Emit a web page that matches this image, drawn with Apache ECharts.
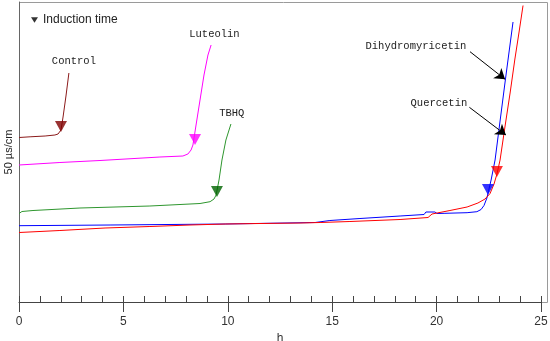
<!DOCTYPE html>
<html><head><meta charset="utf-8">
<script src="https://cdn.jsdelivr.net/npm/echarts@6/dist/echarts.min.js"></script>
<style>html,body{margin:0;padding:0;background:#fff}#c{width:550px;height:341px}</style>
</head><body><div id="c"></div>
<script>
// time axis (h) and conductivity (arbitrary units, 50 µs/cm per ... )
const controlH = [0, 0.53, 1.25, 1.72, 1.87, 1.96, 2.01, 2.11, 2.25, 2.39];
const controlV = [164.5, 165.2, 166, 167, 168, 169.5, 172, 185, 206, 229];

const luteolinH = [0, 1.96, 3.88, 6.75, 7.85, 8.09, 8.24, 8.33, 8.48, 8.67, 8.86, 9.05, 9.20];
const luteolinV = [137, 139.5, 141.5, 145, 146, 148, 152, 157, 177, 202, 227, 247, 257];

const tbhqH = [0, 0.14, 0.67, 2.92, 6.27, 8.67, 9.15, 9.34, 9.44, 9.58, 9.72, 9.91, 10.15];
const tbhqV = [88.5, 90.5, 91.5, 94, 96, 98.5, 100.3, 103, 107, 122, 142, 162, 178];

const dihydroH = [0, 4.36, 9.87, 14.18, 14.89, 16.33, 18.25, 19.40, 19.49, 19.92, 20.02, 20.40, 21.46, 21.93, 22.13, 22.27, 22.41, 22.61, 22.80, 23.04, 23.28, 23.47, 23.66];
const dihydroV = [76.3, 77, 78, 79.5, 81.5, 83.5, 86, 87.5, 90, 90, 88.5, 88.7, 89.3, 90.3, 92.5, 96.5, 104, 122, 142, 181, 220, 250, 280];

const quercetinH = [0, 1.96, 4.12, 6.27, 8.19, 9.87, 11.54, 13.46, 14.42, 15.85, 18.25, 19.59, 19.78, 20.64, 21.46, 21.98, 22.32, 22.56, 22.75, 22.89, 23.04, 23.28, 23.52, 23.75, 23.95, 24.14];
const quercetinV = [69.5, 71.5, 74, 75.5, 77, 78, 78.5, 79, 79.5, 80.5, 82.5, 84.5, 88, 91.5, 95, 99, 103, 108.5, 118, 128, 142, 176, 209, 243, 270, 296.5];

// induction time markers
const inductionNames = ['Control', 'Luteolin', 'TBHQ', 'Dihydromyricetin', 'Quercetin'];
const inductionH = [2.01, 8.43, 9.48, 22.46, 22.89];
const inductionV = [170, 157, 105, 107, 125];

// annotation labels
const labelNames = ['Control', 'Luteolin', 'TBHQ', 'Dihydromyricetin', 'Quercetin'];
const labelH = [2.63, 9.36, 10.19, 19.01, 20.11];
const labelV = [240.3, 268, 188.7, 256, 198.7];

// arrows [fromH, fromV, toH, toV]
const dihydroArrow = [21.60, 250.3, 23.28, 222.7];
const quercetinArrow = [21.57, 194.7, 23.32, 167];

const xTickLabels = [0, 5, 10, 15, 20, 25];

const zip = (a, b) => a.map((v, i) => [v, b[i]]);

const lineColors = ['#8b1a1a', '#ff00ff', '#2e962e', '#0000ff', '#ff0000'];
const markerColors = ['#800000', '#ff00ff', '#006400', '#0000ff', '#ff0000'];

const monoFont = { fontFamily: 'Liberation Mono', fontSize: 10.5, color: '#222' };

function labelPoint(i) {
  return {
    symbol: 'circle', symbolSize: 0, silent: true,
    label: Object.assign({ show: true, position: 'inside', formatter: '{b}' }, monoFont),
    data: [{ name: labelNames[i], coord: [labelH[i], labelV[i]] }]
  };
}
function arrow(a) {
  return {
    silent: true, symbol: ['none', 'arrow'], symbolSize: 10,
    label: { show: false },
    lineStyle: { color: '#000', width: 1, type: 'solid' },
    itemStyle: { color: '#000' },
    emphasis: { disabled: true },
    data: [[{ coord: [a[0], a[1]] }, { coord: [a[2], a[3]] }]]
  };
}
function lineSeries(name, h, v, idx, extra) {
  return Object.assign({
    name: name, type: 'line', data: zip(h, v), showSymbol: false, symbol: 'none',
    lineStyle: { width: 1, color: lineColors[idx] }, itemStyle: { color: lineColors[idx] },
    silent: true, z: 2, markPoint: labelPoint(idx)
  }, extra || {});
}

const chart = echarts.init(document.getElementById('c'), null, { renderer: 'canvas' });
chart.setOption({
  animation: false,
  grid: { left: 19, right: 9, top: 2, bottom: 39, containLabel: false, outerBoundsMode: 'none' },
  legend: {
    left: 26, top: 9, itemWidth: 7, itemHeight: 6, selectedMode: false,
    data: [{ name: 'Induction time', icon: 'path://M0,0L10,0L5,8Z', itemStyle: { color: '#000' } }],
    textStyle: { fontFamily: 'Liberation Sans', fontSize: 12, color: '#222' }
  },
  graphic: [{
    type: 'rect', z: -1, silent: true,
    shape: { x: 19.5, y: 2.5, width: 528, height: 300 },
    style: { fill: 'none', stroke: '#9a9a9a', lineWidth: 1 }
  }],
  xAxis: [{
    type: 'value', min: 0, max: 25, interval: 5,
    axisLine: { show: true, lineStyle: { color: '#444', width: 1 } },
    axisTick: { show: true, inside: false, length: 10, lineStyle: { color: '#444' } },
    axisLabel: { margin: 14, fontSize: 12, color: '#333', fontFamily: 'Liberation Sans',
      formatter: v => xTickLabels.includes(v) ? String(v) : '' },
    splitLine: { show: false },
    name: 'h', nameLocation: 'middle', nameGap: 24,
    nameTextStyle: { fontSize: 12, color: '#333', fontFamily: 'Liberation Sans' }
  }, {
    type: 'value', min: 0, max: 25, interval: 1, position: 'bottom', offset: 0,
    axisLine: { show: false },
    axisTick: { show: true, inside: true, length: 6, lineStyle: { color: '#444' } },
    axisLabel: { show: false }, splitLine: { show: false }
  }],
  yAxis: {
    type: 'value', min: 0, max: 300,
    axisLine: { show: true, lineStyle: { color: '#666' } },
    axisTick: { show: false }, axisLabel: { show: false }, splitLine: { show: false },
    name: '50 µs/cm', nameLocation: 'middle', nameRotate: 90, nameGap: 5,
    nameTextStyle: { fontSize: 11, color: '#222', fontFamily: 'Liberation Sans' }
  },
  series: [
    lineSeries('Control', controlH, controlV, 0),
    lineSeries('Luteolin', luteolinH, luteolinV, 1),
    lineSeries('TBHQ', tbhqH, tbhqV, 2),
    lineSeries('Dihydromyricetin', dihydroH, dihydroV, 3, { markLine: arrow(dihydroArrow) }),
    lineSeries('Quercetin', quercetinH, quercetinV, 4, { markLine: arrow(quercetinArrow) }),
    {
      name: 'Induction time', type: 'scatter', silent: true, z: 5,
      symbol: 'path://M0,0L10,0L5,10Z', symbolSize: [12, 11], symbolOffset: [0, -5.5],
      data: inductionH.map((h, i) => ({ name: inductionNames[i], value: [h, inductionV[i]], itemStyle: { color: markerColors[i] } }))
    }
  ]
});
</script>
</body></html>
